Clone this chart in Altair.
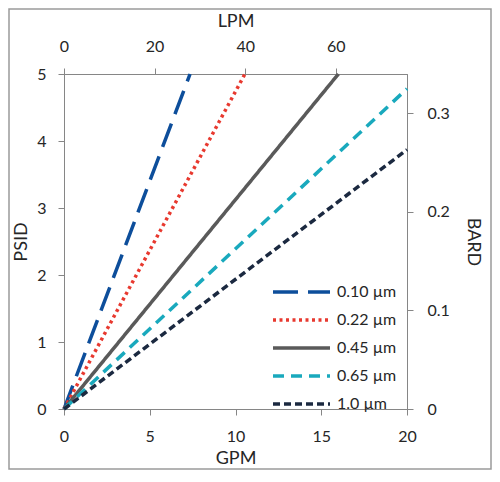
import altair as alt
import pandas as pd

# Data
series = ["0.10 µm", "0.22 µm", "0.45 µm", "0.65 µm", "1.0 µm"]
end_gpm = [7.35, 10.55, 16.0, 20.0, 20.0]
end_psid = [5.0, 5.0, 5.0, 4.78, 3.87]
colors = ["#0d4e9b", "#e8392f", "#5a5a5a", "#19a9bd", "#1b2940"]
dashes = [[25, 10], [3, 3.5], [1, 0], [11, 7], [7, 4]]

gpm_ticks = [0, 5, 10, 15, 20]
psid_ticks = [0, 1, 2, 3, 4, 5]
lpm_ticks = [0, 20, 40, 60]
bard_ticks = [0, 0.1, 0.2, 0.3]
lpm_max = 75.7
bard_max = 0.34

rows = []
for s, g, p in zip(series, end_gpm, end_psid):
    rows.append({"filter": s, "GPM": 0.0, "PSID": 0.0})
    rows.append({"filter": s, "GPM": g, "PSID": p})
df = pd.DataFrame(rows)

sec = pd.DataFrame({"LPM": [0, lpm_max], "BARD": [0, bard_max]})

FONT = "Lato"
TXT = "#262626"
AX = "#868686"

W, H = 343, 335
PL, PT, PR, PB = 56, 66, 85, 61

axis_common = dict(
    grid=False, tickSize=6, domainColor=AX, tickColor=AX, labelFlush=False,
    labelFont=FONT, labelFontSize=16, labelColor=TXT,
    titleFont=FONT, titleFontSize=18, titleColor=TXT, titleFontWeight="normal",
)

legend_opts = dict(title=None, orient="none", legendX=207, legendY=208,
                   symbolType="stroke", symbolSize=3249,
                   symbolStrokeWidth=3.5, clipHeight=20, rowPadding=8,
                   labelOffset=5, labelFont=FONT, labelFontSize=16,
                   labelColor=TXT, padding=0)

lines = alt.Chart(df).mark_line(strokeWidth=3.5).encode(
    x=alt.X("GPM:Q", scale=alt.Scale(domain=[0, 20], nice=False),
            axis=alt.Axis(orient="bottom", values=gpm_ticks, title="GPM",
                          labelPadding=13, titlePadding=5, **axis_common)),
    y=alt.Y("PSID:Q", scale=alt.Scale(domain=[0, 5], nice=False),
            axis=alt.Axis(orient="left", values=psid_ticks, title="PSID",
                          labelPadding=12, titlePadding=6, **axis_common)),
    color=alt.Color("filter:N", scale=alt.Scale(domain=series, range=colors),
                    legend=alt.Legend(**legend_opts)),
    strokeDash=alt.StrokeDash("filter:N", scale=alt.Scale(domain=series, range=dashes),
                              legend=alt.Legend(**legend_opts)),
    detail="filter:N",
)

secondary = alt.Chart(sec).mark_point(opacity=0).encode(
    x=alt.X("LPM:Q", scale=alt.Scale(domain=[0, lpm_max], nice=False),
            axis=alt.Axis(orient="top", values=lpm_ticks, title="LPM",
                          labelPadding=14, titlePadding=8, **axis_common)),
    y=alt.Y("BARD:Q", scale=alt.Scale(domain=[0, bard_max], nice=False),
            axis=alt.Axis(orient="right", values=bard_ticks, title="BARD", titleAngle=90,
                          format="~g", labelPadding=14, titlePadding=14, **axis_common)),
)

border = alt.Chart(sec.head(1)).mark_rect(fill=None, stroke="#9a9a9a", strokeWidth=1.5).encode(
    x=alt.value(-PL + 1), x2=alt.value(W + PR - 1),
    y=alt.value(-PT + 1), y2=alt.value(H + PB - 1),
)

chart = alt.layer(border, lines, secondary).resolve_scale(
    x="independent", y="independent"
).properties(
    width=W, height=H,
    autosize=alt.AutoSizeParams(type="none"),
    padding={"left": PL, "top": PT, "right": PR, "bottom": PB},
    background="white",
).configure_view(stroke=AX)

chart.save("out.html", embed_options={"renderer": "svg", "actions": False})
